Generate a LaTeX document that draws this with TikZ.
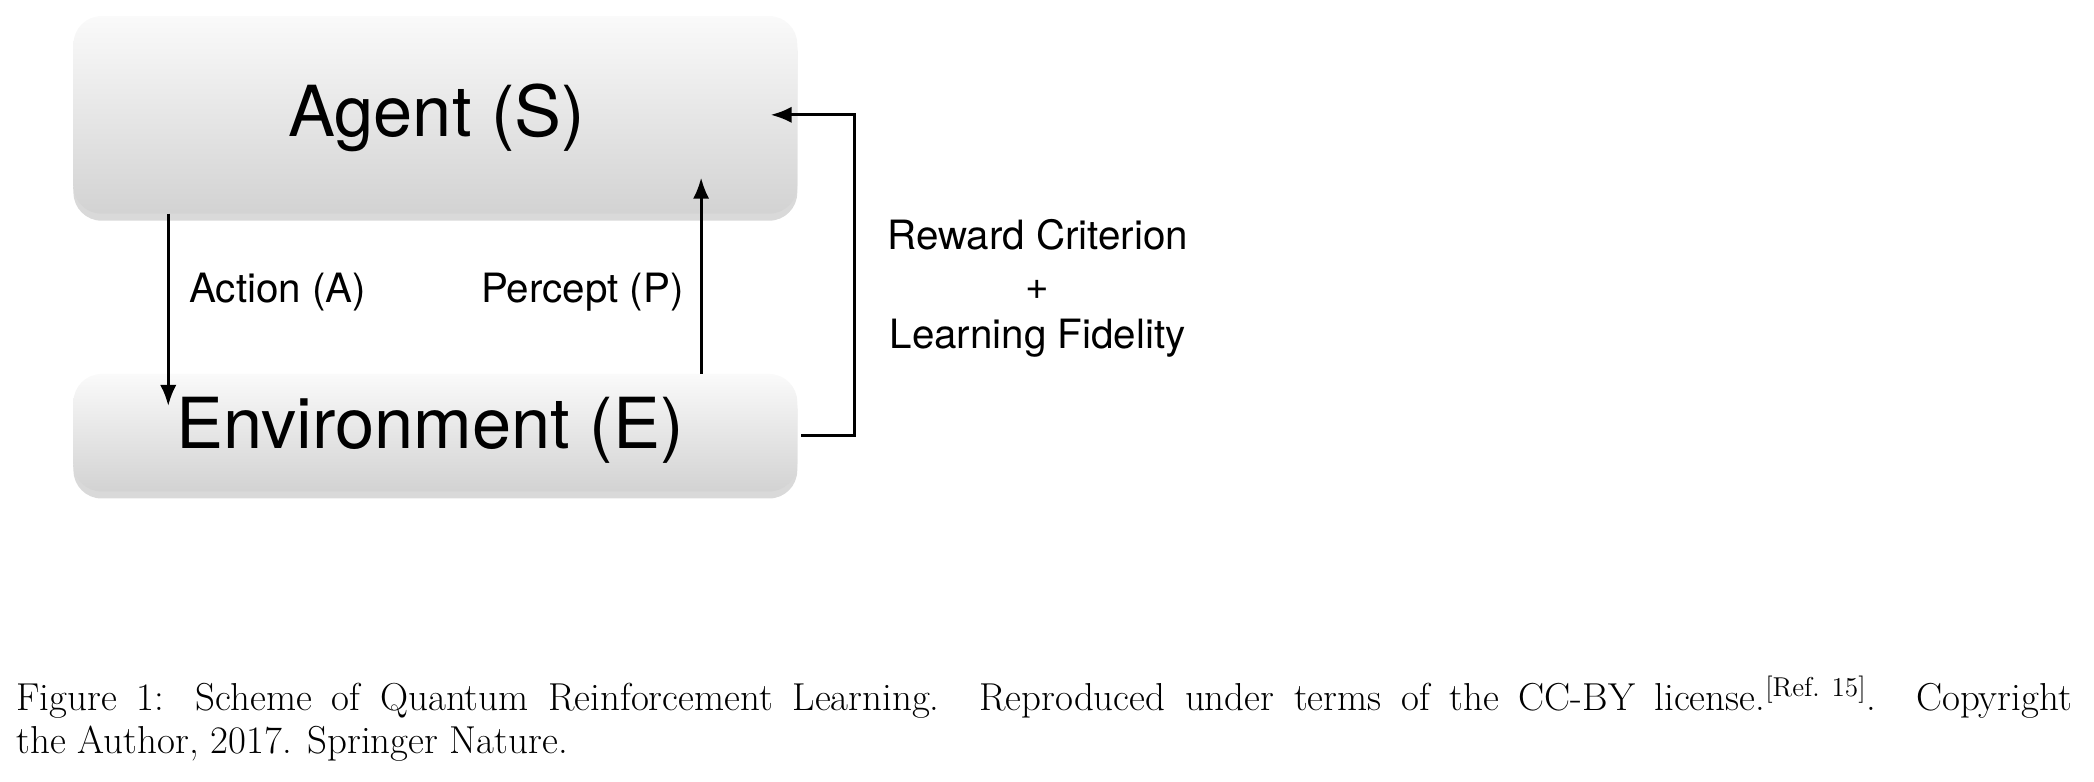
\documentclass[tikz,border=0pt]{standalone}
\usepackage{fontspec}
\setmainfont{Latin Modern Roman}
\newfontfamily\boxfont{TeX Gyre Heros}
\usetikzlibrary{shadows,arrows.meta}
\begin{document}
\begin{tikzpicture}[x=0.02cm,y=-0.02cm,
  box/.style={rounded corners=12pt, top color=gray!4, bottom color=gray!35, draw=none,
    drop shadow={shadow xshift=0pt,shadow yshift=-3pt,opacity=0.3}},
  big/.style={font=\boxfont\fontsize{30}{36}\selectfont},
  lbl/.style={font=\boxfont\fontsize{17.2}{21}\selectfont},
  arr/.style={line width=1.3pt,-{Latex[length=9pt,width=7pt]}}]
\useasboundingbox (0,0) rectangle (1568,585.5);
\path[box] (55,12) rectangle (597,160);
\path[box] (55,280) rectangle (597,368);
\node[big] (agent) at (327,88) {Agent (S)};
\node[big] (env) at (322,322) {Environment (E)};
\coordinate (a1) at (126,160); \coordinate (a2) at (126,304);
\coordinate (p1) at (525,280); \coordinate (p2) at (525,133);
\coordinate (r1) at (600,326); \coordinate (r2) at (640,326);
\coordinate (r3) at (640,86); \coordinate (r4) at (577,86);
\draw[arr] (a1) -- (a2);
\draw[arr] (p1) -- (p2);
\draw[arr] (r1) -- (r2) -- (r3) -- (r4);
\node[lbl] (act) at (208,219) {Action (A)};
\node[lbl] (per) at (436,219) {Percept (P)};
\node[lbl,align=center] (rew) at (777,216) {Reward Criterion\\+\\Learning Fidelity};
\node[anchor=west,inner sep=0,font=\fontsize{16.6}{20}\selectfont] (cap1) at (12,522)
 {\hbox to 876pt{Figure 1: Scheme of Quantum Reinforcement Learning. Reproduced under terms of the CC-BY license.\textsuperscript{[Ref. 15]}. Copyright}};
\node[anchor=west,inner sep=0,font=\fontsize{16.6}{20}\selectfont] (cap2) at (12,557)
 {the Author, 2017. Springer Nature.};
\end{tikzpicture}
\end{document}
